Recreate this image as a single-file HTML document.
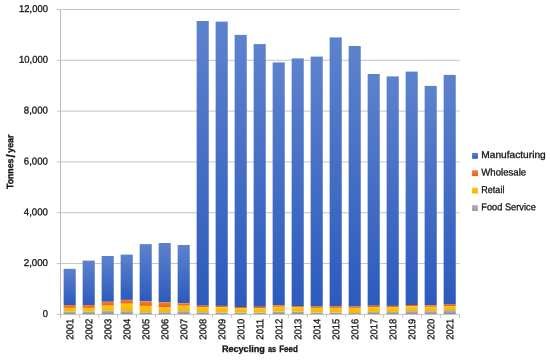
<!DOCTYPE html>
<html lang="en"><head><meta charset="utf-8"><title>Recycling as Feed</title>
<style>html,body{margin:0;padding:0;background:#fff;}svg{display:block;}text{font-family:"Liberation Sans",sans-serif;fill:#141414;stroke:#141414;stroke-width:0.3px;}</style></head><body>
<svg width="550" height="361" viewBox="0 0 550 361">
<defs>
<linearGradient id="gb" x1="0" y1="0" x2="0" y2="1"><stop offset="0" stop-color="#5d82cd"/><stop offset="1" stop-color="#2c5bbd"/></linearGradient>
<linearGradient id="go" x1="0" y1="0" x2="0" y2="1"><stop offset="0" stop-color="#f67c36"/><stop offset="1" stop-color="#ea620a"/></linearGradient>
<linearGradient id="gy" x1="0" y1="0" x2="0" y2="1"><stop offset="0" stop-color="#ffc414"/><stop offset="1" stop-color="#f8b500"/></linearGradient>
<linearGradient id="gg" x1="0" y1="0" x2="0" y2="1"><stop offset="0" stop-color="#b8b8b8"/><stop offset="1" stop-color="#8c8c8c"/></linearGradient>
<linearGradient id="gg2" x1="0" y1="0" x2="0" y2="1"><stop offset="0" stop-color="#b0b0b0"/><stop offset="1" stop-color="#9c9c9c"/></linearGradient>
</defs>
<rect width="550" height="361" fill="#fff"/>
<line x1="56.8" y1="314.40" x2="459.6" y2="314.40" stroke="#c4c4c4" stroke-width="1"/>
<line x1="56.8" y1="263.57" x2="459.6" y2="263.57" stroke="#c4c4c4" stroke-width="1"/>
<line x1="56.8" y1="212.75" x2="459.6" y2="212.75" stroke="#c4c4c4" stroke-width="1"/>
<line x1="56.8" y1="161.92" x2="459.6" y2="161.92" stroke="#c4c4c4" stroke-width="1"/>
<line x1="56.8" y1="111.10" x2="459.6" y2="111.10" stroke="#c4c4c4" stroke-width="1"/>
<line x1="56.8" y1="60.27" x2="459.6" y2="60.27" stroke="#c4c4c4" stroke-width="1"/>
<line x1="56.8" y1="9.45" x2="459.6" y2="9.45" stroke="#c4c4c4" stroke-width="1"/>
<line x1="60.5" y1="9.45" x2="60.5" y2="317.79999999999995" stroke="#bcbcbc" stroke-width="1"/>
<line x1="79.50" y1="314.4" x2="79.50" y2="317.79999999999995" stroke="#c4c4c4" stroke-width="0.9"/>
<line x1="98.50" y1="314.4" x2="98.50" y2="317.79999999999995" stroke="#c4c4c4" stroke-width="0.9"/>
<line x1="117.50" y1="314.4" x2="117.50" y2="317.79999999999995" stroke="#c4c4c4" stroke-width="0.9"/>
<line x1="136.50" y1="314.4" x2="136.50" y2="317.79999999999995" stroke="#c4c4c4" stroke-width="0.9"/>
<line x1="155.50" y1="314.4" x2="155.50" y2="317.79999999999995" stroke="#c4c4c4" stroke-width="0.9"/>
<line x1="174.50" y1="314.4" x2="174.50" y2="317.79999999999995" stroke="#c4c4c4" stroke-width="0.9"/>
<line x1="193.50" y1="314.4" x2="193.50" y2="317.79999999999995" stroke="#c4c4c4" stroke-width="0.9"/>
<line x1="212.50" y1="314.4" x2="212.50" y2="317.79999999999995" stroke="#c4c4c4" stroke-width="0.9"/>
<line x1="231.50" y1="314.4" x2="231.50" y2="317.79999999999995" stroke="#c4c4c4" stroke-width="0.9"/>
<line x1="250.50" y1="314.4" x2="250.50" y2="317.79999999999995" stroke="#c4c4c4" stroke-width="0.9"/>
<line x1="269.50" y1="314.4" x2="269.50" y2="317.79999999999995" stroke="#c4c4c4" stroke-width="0.9"/>
<line x1="288.50" y1="314.4" x2="288.50" y2="317.79999999999995" stroke="#c4c4c4" stroke-width="0.9"/>
<line x1="307.50" y1="314.4" x2="307.50" y2="317.79999999999995" stroke="#c4c4c4" stroke-width="0.9"/>
<line x1="326.50" y1="314.4" x2="326.50" y2="317.79999999999995" stroke="#c4c4c4" stroke-width="0.9"/>
<line x1="345.50" y1="314.4" x2="345.50" y2="317.79999999999995" stroke="#c4c4c4" stroke-width="0.9"/>
<line x1="364.50" y1="314.4" x2="364.50" y2="317.79999999999995" stroke="#c4c4c4" stroke-width="0.9"/>
<line x1="383.50" y1="314.4" x2="383.50" y2="317.79999999999995" stroke="#c4c4c4" stroke-width="0.9"/>
<line x1="402.50" y1="314.4" x2="402.50" y2="317.79999999999995" stroke="#c4c4c4" stroke-width="0.9"/>
<line x1="421.50" y1="314.4" x2="421.50" y2="317.79999999999995" stroke="#c4c4c4" stroke-width="0.9"/>
<line x1="440.50" y1="314.4" x2="440.50" y2="317.79999999999995" stroke="#c4c4c4" stroke-width="0.9"/>
<line x1="459.50" y1="314.4" x2="459.50" y2="317.79999999999995" stroke="#c4c4c4" stroke-width="0.9"/>
<rect x="63.65" y="268.8" width="12.1" height="36.20" fill="url(#gb)"/>
<rect x="63.65" y="305.0" width="12.1" height="2.90" fill="url(#go)"/>
<rect x="63.65" y="307.9" width="12.1" height="3.80" fill="url(#gy)"/>
<rect x="63.65" y="311.7" width="12.1" height="2.40" fill="url(#gg)"/>
<rect x="82.65" y="260.6" width="12.1" height="44.40" fill="url(#gb)"/>
<rect x="82.65" y="305.0" width="12.1" height="2.90" fill="url(#go)"/>
<rect x="82.65" y="307.9" width="12.1" height="3.80" fill="url(#gy)"/>
<rect x="82.65" y="311.7" width="12.1" height="2.40" fill="url(#gg)"/>
<rect x="101.65" y="256.0" width="12.1" height="45.80" fill="url(#gb)"/>
<rect x="101.65" y="301.8" width="12.1" height="3.90" fill="url(#go)"/>
<rect x="101.65" y="305.7" width="12.1" height="5.10" fill="url(#gy)"/>
<rect x="101.65" y="310.8" width="12.1" height="3.30" fill="url(#gg)"/>
<rect x="120.65" y="254.6" width="12.1" height="45.30" fill="url(#gb)"/>
<rect x="120.65" y="299.9" width="12.1" height="3.80" fill="url(#go)"/>
<rect x="120.65" y="303.7" width="12.1" height="7.40" fill="url(#gy)"/>
<rect x="120.65" y="311.1" width="12.1" height="3.00" fill="url(#gg)"/>
<rect x="139.65" y="244.1" width="12.1" height="57.20" fill="url(#gb)"/>
<rect x="139.65" y="301.3" width="12.1" height="4.60" fill="url(#go)"/>
<rect x="139.65" y="305.9" width="12.1" height="6.30" fill="url(#gy)"/>
<rect x="139.65" y="312.2" width="12.1" height="1.90" fill="url(#gg)"/>
<rect x="158.65" y="243.0" width="12.1" height="59.40" fill="url(#gb)"/>
<rect x="158.65" y="302.4" width="12.1" height="4.80" fill="url(#go)"/>
<rect x="158.65" y="307.2" width="12.1" height="5.00" fill="url(#gy)"/>
<rect x="158.65" y="312.2" width="12.1" height="1.90" fill="url(#gg)"/>
<rect x="177.65" y="245.0" width="12.1" height="58.20" fill="url(#gb)"/>
<rect x="177.65" y="303.2" width="12.1" height="2.50" fill="url(#go)"/>
<rect x="177.65" y="305.7" width="12.1" height="5.40" fill="url(#gy)"/>
<rect x="177.65" y="311.1" width="12.1" height="3.00" fill="url(#gg)"/>
<rect x="196.65" y="21.0" width="12.1" height="284.70" fill="url(#gb)"/>
<rect x="196.65" y="305.7" width="12.1" height="1.40" fill="#ee6410"/>
<rect x="196.65" y="307.09999999999997" width="12.1" height="5.10" fill="url(#gy)"/>
<rect x="196.65" y="312.2" width="12.1" height="1.90" fill="url(#gg)"/>
<rect x="215.65" y="21.6" width="12.1" height="284.30" fill="url(#gb)"/>
<rect x="215.65" y="305.9" width="12.1" height="1.40" fill="#ee6410"/>
<rect x="215.65" y="307.29999999999995" width="12.1" height="5.20" fill="url(#gy)"/>
<rect x="215.65" y="312.5" width="12.1" height="1.60" fill="url(#gg)"/>
<rect x="234.65" y="34.9" width="12.1" height="272.10" fill="url(#gb)"/>
<rect x="234.65" y="307.0" width="12.1" height="1.40" fill="#ee6410"/>
<rect x="234.65" y="308.4" width="12.1" height="4.10" fill="url(#gy)"/>
<rect x="234.65" y="312.5" width="12.1" height="1.60" fill="url(#gg)"/>
<rect x="253.65" y="44.1" width="12.1" height="262.70" fill="url(#gb)"/>
<rect x="253.65" y="306.8" width="12.1" height="1.40" fill="#ee6410"/>
<rect x="253.65" y="308.2" width="12.1" height="4.30" fill="url(#gy)"/>
<rect x="253.65" y="312.5" width="12.1" height="1.60" fill="url(#gg)"/>
<rect x="272.65" y="62.4" width="12.1" height="243.00" fill="url(#gb)"/>
<rect x="272.65" y="305.4" width="12.1" height="1.40" fill="#ee6410"/>
<rect x="272.65" y="306.79999999999995" width="12.1" height="4.80" fill="url(#gy)"/>
<rect x="272.65" y="311.6" width="12.1" height="2.50" fill="url(#gg)"/>
<rect x="291.65" y="58.4" width="12.1" height="247.70" fill="url(#gb)"/>
<rect x="291.65" y="306.1" width="12.1" height="1.40" fill="#ee6410"/>
<rect x="291.65" y="307.5" width="12.1" height="4.10" fill="url(#gy)"/>
<rect x="291.65" y="311.6" width="12.1" height="2.50" fill="url(#gg)"/>
<rect x="310.65" y="56.6" width="12.1" height="249.90" fill="url(#gb)"/>
<rect x="310.65" y="306.5" width="12.1" height="1.40" fill="#ee6410"/>
<rect x="310.65" y="307.9" width="12.1" height="4.60" fill="url(#gy)"/>
<rect x="310.65" y="312.5" width="12.1" height="1.60" fill="url(#gg)"/>
<rect x="329.65" y="37.4" width="12.1" height="269.10" fill="url(#gb)"/>
<rect x="329.65" y="306.5" width="12.1" height="1.40" fill="#ee6410"/>
<rect x="329.65" y="307.9" width="12.1" height="4.60" fill="url(#gy)"/>
<rect x="329.65" y="312.5" width="12.1" height="1.60" fill="url(#gg)"/>
<rect x="348.65" y="46.0" width="12.1" height="260.50" fill="url(#gb)"/>
<rect x="348.65" y="306.5" width="12.1" height="1.40" fill="#ee6410"/>
<rect x="348.65" y="307.9" width="12.1" height="5.10" fill="url(#gy)"/>
<rect x="348.65" y="313.0" width="12.1" height="1.10" fill="url(#gg)"/>
<rect x="367.65" y="74.0" width="12.1" height="231.70" fill="url(#gb)"/>
<rect x="367.65" y="305.7" width="12.1" height="1.40" fill="#ee6410"/>
<rect x="367.65" y="307.09999999999997" width="12.1" height="4.80" fill="url(#gy)"/>
<rect x="367.65" y="311.9" width="12.1" height="2.20" fill="url(#gg)"/>
<rect x="386.65" y="76.4" width="12.1" height="229.50" fill="url(#gb)"/>
<rect x="386.65" y="305.9" width="12.1" height="1.40" fill="#ee6410"/>
<rect x="386.65" y="307.29999999999995" width="12.1" height="4.60" fill="url(#gy)"/>
<rect x="386.65" y="311.9" width="12.1" height="2.20" fill="url(#gg)"/>
<rect x="405.65" y="71.6" width="12.1" height="233.40" fill="url(#gb)"/>
<rect x="405.65" y="305.0" width="12.1" height="1.40" fill="#ee6410"/>
<rect x="405.65" y="306.4" width="12.1" height="4.70" fill="url(#gy)"/>
<rect x="405.65" y="311.1" width="12.1" height="3.00" fill="url(#gg)"/>
<rect x="424.65" y="85.9" width="12.1" height="219.50" fill="url(#gb)"/>
<rect x="424.65" y="305.4" width="12.1" height="1.40" fill="#ee6410"/>
<rect x="424.65" y="306.79999999999995" width="12.1" height="4.30" fill="url(#gy)"/>
<rect x="424.65" y="311.1" width="12.1" height="3.00" fill="url(#gg)"/>
<rect x="443.65" y="74.9" width="12.1" height="229.70" fill="url(#gb)"/>
<rect x="443.65" y="304.6" width="12.1" height="1.40" fill="#ee6410"/>
<rect x="443.65" y="306.0" width="12.1" height="4.00" fill="url(#gy)"/>
<rect x="443.65" y="310.0" width="12.1" height="4.10" fill="url(#gg)"/>
<text transform="translate(42.80,316.90) rotate(0.03)" font-size="9.9" textLength="5.2" lengthAdjust="spacingAndGlyphs">0</text>
<text transform="translate(23.80,266.07) rotate(0.03)" font-size="9.9" textLength="24.2" lengthAdjust="spacingAndGlyphs">2,000</text>
<text transform="translate(23.80,215.25) rotate(0.03)" font-size="9.9" textLength="24.2" lengthAdjust="spacingAndGlyphs">4,000</text>
<text transform="translate(23.80,164.42) rotate(0.03)" font-size="9.9" textLength="24.2" lengthAdjust="spacingAndGlyphs">6,000</text>
<text transform="translate(23.80,113.60) rotate(0.03)" font-size="9.9" textLength="24.2" lengthAdjust="spacingAndGlyphs">8,000</text>
<text transform="translate(19.10,62.77) rotate(0.03)" font-size="9.9" textLength="28.9" lengthAdjust="spacingAndGlyphs">10,000</text>
<text transform="translate(19.10,11.95) rotate(0.03)" font-size="9.9" textLength="28.9" lengthAdjust="spacingAndGlyphs">12,000</text>
<text transform="translate(73.30,339.7) rotate(-89.97)" font-size="9.9" textLength="21" lengthAdjust="spacingAndGlyphs">2001</text>
<text transform="translate(92.30,339.7) rotate(-89.97)" font-size="9.9" textLength="21" lengthAdjust="spacingAndGlyphs">2002</text>
<text transform="translate(111.30,339.7) rotate(-89.97)" font-size="9.9" textLength="21" lengthAdjust="spacingAndGlyphs">2003</text>
<text transform="translate(130.30,339.7) rotate(-89.97)" font-size="9.9" textLength="21" lengthAdjust="spacingAndGlyphs">2004</text>
<text transform="translate(149.30,339.7) rotate(-89.97)" font-size="9.9" textLength="21" lengthAdjust="spacingAndGlyphs">2005</text>
<text transform="translate(168.30,339.7) rotate(-89.97)" font-size="9.9" textLength="21" lengthAdjust="spacingAndGlyphs">2006</text>
<text transform="translate(187.30,339.7) rotate(-89.97)" font-size="9.9" textLength="21" lengthAdjust="spacingAndGlyphs">2007</text>
<text transform="translate(206.30,339.7) rotate(-89.97)" font-size="9.9" textLength="21" lengthAdjust="spacingAndGlyphs">2008</text>
<text transform="translate(225.30,339.7) rotate(-89.97)" font-size="9.9" textLength="21" lengthAdjust="spacingAndGlyphs">2009</text>
<text transform="translate(244.30,339.7) rotate(-89.97)" font-size="9.9" textLength="21" lengthAdjust="spacingAndGlyphs">2010</text>
<text transform="translate(263.30,339.7) rotate(-89.97)" font-size="9.9" textLength="21" lengthAdjust="spacingAndGlyphs">2011</text>
<text transform="translate(282.30,339.7) rotate(-89.97)" font-size="9.9" textLength="21" lengthAdjust="spacingAndGlyphs">2012</text>
<text transform="translate(301.30,339.7) rotate(-89.97)" font-size="9.9" textLength="21" lengthAdjust="spacingAndGlyphs">2013</text>
<text transform="translate(320.30,339.7) rotate(-89.97)" font-size="9.9" textLength="21" lengthAdjust="spacingAndGlyphs">2014</text>
<text transform="translate(339.30,339.7) rotate(-89.97)" font-size="9.9" textLength="21" lengthAdjust="spacingAndGlyphs">2015</text>
<text transform="translate(358.30,339.7) rotate(-89.97)" font-size="9.9" textLength="21" lengthAdjust="spacingAndGlyphs">2016</text>
<text transform="translate(377.30,339.7) rotate(-89.97)" font-size="9.9" textLength="21" lengthAdjust="spacingAndGlyphs">2017</text>
<text transform="translate(396.30,339.7) rotate(-89.97)" font-size="9.9" textLength="21" lengthAdjust="spacingAndGlyphs">2018</text>
<text transform="translate(415.30,339.7) rotate(-89.97)" font-size="9.9" textLength="21" lengthAdjust="spacingAndGlyphs">2019</text>
<text transform="translate(434.30,339.7) rotate(-89.97)" font-size="9.9" textLength="21" lengthAdjust="spacingAndGlyphs">2020</text>
<text transform="translate(453.30,339.7) rotate(-89.97)" font-size="9.9" textLength="21" lengthAdjust="spacingAndGlyphs">2021</text>
<text transform="translate(13.2,189) rotate(-89.97) scale(0.93,1)" font-size="9.4" font-weight="bold"><tspan x="0">Tonnes</tspan><tspan x="34" dy="1.6" font-size="12">/</tspan><tspan x="39.1" dy="-1.6">year</tspan></text>
<text transform="translate(221.9,352.05) rotate(0.03)" font-size="9.4" font-weight="bold"><tspan x="0" textLength="42.9" lengthAdjust="spacingAndGlyphs">Recycling</tspan> <tspan x="46.1" textLength="8.1" lengthAdjust="spacingAndGlyphs">as</tspan> <tspan x="57.3" textLength="18.7" lengthAdjust="spacingAndGlyphs">Feed</tspan></text>
<rect x="472.1" y="152.95" width="5.8" height="5.8" fill="url(#gb)"/>
<text transform="translate(481.3,158.00) rotate(0.03)" font-size="9.9" textLength="64.4" lengthAdjust="spacingAndGlyphs">Manufacturing</text>
<rect x="472.1" y="170.35" width="5.8" height="5.8" fill="url(#go)"/>
<text transform="translate(481.3,175.40) rotate(0.03)" font-size="9.9" textLength="44.8" lengthAdjust="spacingAndGlyphs">Wholesale</text>
<rect x="472.1" y="187.75" width="5.8" height="5.8" fill="url(#gy)"/>
<text transform="translate(481.3,192.80) rotate(0.03)" font-size="9.9" textLength="23.1" lengthAdjust="spacingAndGlyphs">Retail</text>
<rect x="472.1" y="205.15" width="5.8" height="5.8" fill="url(#gg2)"/>
<text transform="translate(481.3,210.20) rotate(0.03)" font-size="9.9" textLength="54.5" lengthAdjust="spacingAndGlyphs">Food Service</text>
</svg></body></html>
